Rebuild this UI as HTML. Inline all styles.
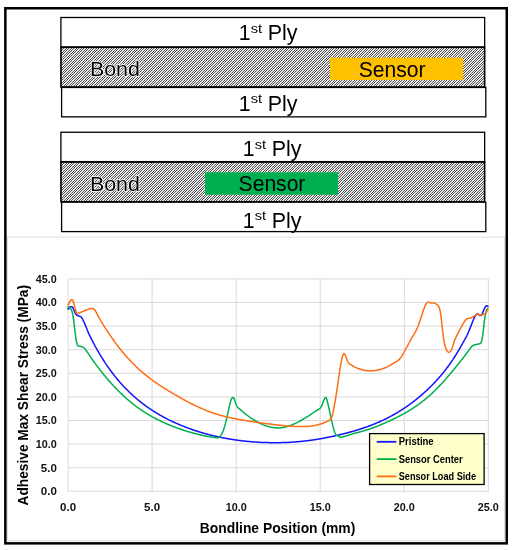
<!DOCTYPE html>
<html><head><meta charset="utf-8"><title>Adhesive Max Shear Stress</title>
<style>
html,body{margin:0;padding:0;background:#fff;}
body{width:514px;height:550px;overflow:hidden;}
svg{display:block;font-family:"Liberation Sans",sans-serif;}
.big{font-size:21.3px;fill:#000;}
.bond{font-size:20.3px;stroke:#fff;stroke-width:1.6;paint-order:stroke;stroke-linejoin:round;}
.tick text{font-size:10px;font-weight:bold;fill:#111;}
.title{font-size:14.5px;font-weight:bold;fill:#000;}
.leg text{font-size:10.4px;font-weight:bold;fill:#000;}
.grid line{stroke:#d9d9d9;stroke-width:1;}
.curve{fill:none;stroke-width:1.5;stroke-linejoin:round;stroke-linecap:round;}
</style></head><body>
<svg width="514" height="550" viewBox="0 0 514 550">
<defs>
<pattern id="hatch" width="5" height="5" patternUnits="userSpaceOnUse" shape-rendering="crispEdges"><rect width="5" height="5" fill="#fff"/><rect x="1" y="0" width="1" height="1" fill="rgb(80,80,80)"/><rect x="2" y="0" width="1" height="1" fill="rgb(232,232,232)"/><rect x="3" y="0" width="1" height="1" fill="rgb(232,232,232)"/><rect x="4" y="0" width="1" height="1" fill="rgb(80,80,80)"/><rect x="0" y="1" width="1" height="1" fill="rgb(80,80,80)"/><rect x="1" y="1" width="1" height="1" fill="rgb(232,232,232)"/><rect x="2" y="1" width="1" height="1" fill="rgb(232,232,232)"/><rect x="3" y="1" width="1" height="1" fill="rgb(80,80,80)"/><rect x="0" y="2" width="1" height="1" fill="rgb(232,232,232)"/><rect x="1" y="2" width="1" height="1" fill="rgb(232,232,232)"/><rect x="2" y="2" width="1" height="1" fill="rgb(80,80,80)"/><rect x="4" y="2" width="1" height="1" fill="rgb(80,80,80)"/><rect x="0" y="3" width="1" height="1" fill="rgb(232,232,232)"/><rect x="1" y="3" width="1" height="1" fill="rgb(80,80,80)"/><rect x="3" y="3" width="1" height="1" fill="rgb(80,80,80)"/><rect x="4" y="3" width="1" height="1" fill="rgb(232,232,232)"/><rect x="0" y="4" width="1" height="1" fill="rgb(80,80,80)"/><rect x="2" y="4" width="1" height="1" fill="rgb(80,80,80)"/><rect x="3" y="4" width="1" height="1" fill="rgb(232,232,232)"/><rect x="4" y="4" width="1" height="1" fill="rgb(232,232,232)"/></pattern>
</defs>
<rect width="514" height="550" fill="#fff"/>
<rect x="5.35" y="8.25" width="501.4" height="535.1" fill="#fff" stroke="#000" stroke-width="2.5"/>
<rect x="7.5" y="237.1" width="497" height="303.6" fill="none" stroke="#dedede" stroke-width="1"/>
<rect x="61" y="47.30" width="423.6" height="39.70" fill="url(#hatch)"/><rect x="60.95" y="47.30" width="423.7" height="39.70" fill="none" stroke="#000" stroke-width="1.6"/><rect x="60.9" y="17.50" width="423.75" height="29.35" fill="#fff" stroke="#000" stroke-width="1.3"/><rect x="61.6" y="87.45" width="424.2" height="29.40" fill="#fff" stroke="#000" stroke-width="1.3"/><rect x="330.0" y="57.7" width="133.1" height="22.3" fill="#FFC000"/><text class="big" x="238.7" y="39.9">1<tspan x="250.8" y="32.5" style="font-size:13.4px" textLength="11.4" lengthAdjust="spacingAndGlyphs">st</tspan> <tspan x="267.7" y="39.9" textLength="29.8" lengthAdjust="spacingAndGlyphs">Ply</tspan></text><text class="big" x="238.7" y="110.7">1<tspan x="250.8" y="103.3" style="font-size:13.4px" textLength="11.4" lengthAdjust="spacingAndGlyphs">st</tspan> <tspan x="267.7" y="110.7" textLength="29.8" lengthAdjust="spacingAndGlyphs">Ply</tspan></text><text class="big" x="358.7" y="77.1" textLength="66.8" lengthAdjust="spacingAndGlyphs">Sensor</text><text class="big bond" x="89.9" y="75.8" textLength="50" lengthAdjust="spacingAndGlyphs">Bond</text>
<rect x="61" y="162.05" width="423.6" height="39.70" fill="url(#hatch)"/><rect x="60.95" y="162.05" width="423.7" height="39.70" fill="none" stroke="#000" stroke-width="1.6"/><rect x="60.9" y="132.25" width="423.75" height="29.35" fill="#fff" stroke="#000" stroke-width="1.3"/><rect x="61.6" y="202.20" width="424.2" height="29.40" fill="#fff" stroke="#000" stroke-width="1.3"/><rect x="205.1" y="172.3" width="133.0" height="22.4" fill="#00B050"/><text class="big" x="242.7" y="156.1">1<tspan x="254.8" y="148.7" style="font-size:13.4px" textLength="11.4" lengthAdjust="spacingAndGlyphs">st</tspan> <tspan x="271.7" y="156.1" textLength="29.8" lengthAdjust="spacingAndGlyphs">Ply</tspan></text><text class="big" x="242.7" y="227.5">1<tspan x="254.8" y="220.1" style="font-size:13.4px" textLength="11.4" lengthAdjust="spacingAndGlyphs">st</tspan> <tspan x="271.7" y="227.5" textLength="29.8" lengthAdjust="spacingAndGlyphs">Ply</tspan></text><text class="big" x="238.6" y="191.4" textLength="66.8" lengthAdjust="spacingAndGlyphs">Sensor</text><text class="big bond" x="89.9" y="190.5" textLength="50" lengthAdjust="spacingAndGlyphs">Bond</text>
<g class="grid"><line x1="68.1" y1="491.3" x2="488.3" y2="491.3"/><line x1="68.1" y1="467.7" x2="488.3" y2="467.7"/><line x1="68.1" y1="444.1" x2="488.3" y2="444.1"/><line x1="68.1" y1="420.5" x2="488.3" y2="420.5"/><line x1="68.1" y1="396.9" x2="488.3" y2="396.9"/><line x1="68.1" y1="373.3" x2="488.3" y2="373.3"/><line x1="68.1" y1="349.7" x2="488.3" y2="349.7"/><line x1="68.1" y1="326.1" x2="488.3" y2="326.1"/><line x1="68.1" y1="302.5" x2="488.3" y2="302.5"/><line x1="68.1" y1="278.9" x2="488.3" y2="278.9"/><line x1="68.1" y1="278.9" x2="68.1" y2="491.3"/><line x1="152.1" y1="278.9" x2="152.1" y2="491.3"/><line x1="236.2" y1="278.9" x2="236.2" y2="491.3"/><line x1="320.2" y1="278.9" x2="320.2" y2="491.3"/><line x1="404.3" y1="278.9" x2="404.3" y2="491.3"/><line x1="488.3" y1="278.9" x2="488.3" y2="491.3"/></g>
<path class="curve" stroke="#1414FF" d="M68.0,309.1 L68.5,308.7 L69.0,308.1 L69.5,307.6 L70.0,307.2 L70.5,306.9 L71.0,306.7 L71.5,306.7 L72.0,306.8 L72.5,307.2 L73.0,308.0 L73.5,309.0 L74.0,310.2 L74.5,311.5 L75.0,312.6 L75.5,313.6 L76.0,314.3 L76.5,314.9 L77.0,315.3 L77.5,315.5 L78.0,315.7 L78.5,315.9 L79.0,316.1 L79.5,316.2 L80.0,316.4 L80.5,316.6 L81.0,316.9 L81.5,317.4 L82.0,318.1 L82.5,319.0 L83.0,320.0 L83.5,321.1 L84.0,322.2 L84.5,323.3 L85.0,324.4 L85.5,325.6 L86.0,326.8 L86.5,328.0 L87.0,329.2 L87.5,330.6 L88.0,331.9 L88.5,333.0 L89.0,334.1 L89.5,335.1 L90.0,336.1 L90.5,337.2 L91.0,338.2 L91.5,339.2 L92.0,340.2 L92.5,341.2 L93.0,342.2 L93.5,343.1 L94.0,344.0 L94.5,344.9 L95.0,345.9 L95.5,346.8 L96.0,347.6 L96.5,348.5 L97.0,349.4 L97.5,350.3 L98.0,351.2 L98.5,352.0 L99.0,352.9 L99.5,353.8 L100.0,354.6 L100.5,355.4 L101.0,356.3 L101.5,357.1 L102.0,357.9 L102.5,358.7 L103.0,359.5 L103.5,360.3 L104.0,361.0 L104.5,361.8 L105.0,362.6 L105.5,363.3 L106.0,364.1 L106.5,364.8 L107.0,365.6 L107.5,366.3 L108.0,367.0 L108.5,367.7 L109.0,368.4 L109.5,369.1 L110.0,369.8 L110.5,370.5 L111.0,371.2 L111.5,371.8 L112.0,372.5 L112.5,373.2 L113.0,373.8 L113.5,374.5 L114.0,375.1 L114.5,375.7 L115.0,376.4 L115.5,377.0 L116.0,377.6 L116.5,378.2 L117.0,378.8 L117.5,379.4 L118.0,380.0 L118.5,380.6 L119.0,381.2 L119.5,381.8 L120.0,382.3 L120.5,382.9 L121.0,383.5 L121.5,384.0 L122.0,384.6 L122.5,385.1 L123.0,385.7 L123.5,386.2 L124.0,386.7 L124.5,387.2 L125.0,387.8 L125.5,388.3 L126.0,388.8 L126.5,389.3 L127.0,389.8 L127.5,390.3 L128.0,390.8 L128.5,391.3 L129.0,391.8 L129.5,392.2 L130.0,392.7 L130.5,393.2 L131.0,393.7 L131.5,394.1 L132.0,394.6 L132.5,395.1 L133.0,395.5 L133.5,396.0 L134.0,396.4 L134.5,396.8 L135.0,397.3 L135.5,397.7 L136.0,398.2 L136.5,398.6 L137.0,399.0 L137.5,399.4 L138.0,399.8 L138.5,400.3 L139.0,400.7 L139.5,401.1 L140.0,401.5 L140.5,401.9 L141.0,402.3 L141.5,402.7 L142.0,403.1 L142.5,403.4 L143.0,403.8 L143.5,404.2 L144.0,404.6 L144.5,405.0 L145.0,405.3 L145.5,405.7 L146.0,406.1 L146.5,406.4 L147.0,406.8 L147.5,407.1 L148.0,407.5 L148.5,407.8 L149.0,408.2 L149.5,408.5 L150.0,408.9 L150.5,409.2 L151.0,409.5 L151.5,409.9 L152.0,410.2 L152.5,410.5 L153.0,410.8 L153.5,411.2 L154.0,411.5 L154.5,411.8 L155.0,412.1 L155.5,412.4 L156.0,412.7 L156.5,413.0 L157.0,413.3 L157.5,413.6 L158.0,413.9 L158.5,414.2 L159.0,414.5 L159.5,414.8 L160.0,415.1 L160.5,415.4 L161.0,415.6 L161.5,415.9 L162.0,416.2 L162.5,416.5 L163.0,416.8 L163.5,417.0 L164.0,417.3 L164.5,417.6 L165.0,417.8 L165.5,418.1 L166.0,418.3 L166.5,418.6 L167.0,418.9 L167.5,419.1 L168.0,419.4 L168.5,419.6 L169.0,419.9 L169.5,420.1 L170.0,420.4 L170.5,420.6 L171.0,420.8 L171.5,421.1 L172.0,421.3 L172.5,421.6 L173.0,421.8 L173.5,422.0 L174.0,422.3 L174.5,422.5 L175.0,422.7 L175.5,422.9 L176.0,423.2 L176.5,423.4 L177.0,423.6 L177.5,423.8 L178.0,424.0 L178.5,424.3 L179.0,424.5 L179.5,424.7 L180.0,424.9 L180.5,425.1 L181.0,425.3 L181.5,425.5 L182.0,425.7 L182.5,425.9 L183.0,426.1 L183.5,426.3 L184.0,426.5 L184.5,426.7 L185.0,426.9 L185.5,427.1 L186.0,427.3 L186.5,427.5 L187.0,427.7 L187.5,427.9 L188.0,428.1 L188.5,428.2 L189.0,428.4 L189.5,428.6 L190.0,428.8 L190.5,429.0 L191.0,429.1 L191.5,429.3 L192.0,429.5 L192.5,429.7 L193.0,429.8 L193.5,430.0 L194.0,430.2 L194.5,430.4 L195.0,430.5 L195.5,430.7 L196.0,430.8 L196.5,431.0 L197.0,431.2 L197.5,431.3 L198.0,431.5 L198.5,431.6 L199.0,431.8 L199.5,432.0 L200.0,432.1 L200.5,432.3 L201.0,432.4 L201.5,432.6 L202.0,432.7 L202.5,432.9 L203.0,433.0 L203.5,433.1 L204.0,433.3 L204.5,433.4 L205.0,433.6 L205.5,433.7 L206.0,433.8 L206.5,434.0 L207.0,434.1 L207.5,434.2 L208.0,434.4 L208.5,434.5 L209.0,434.6 L209.5,434.8 L210.0,434.9 L210.5,435.0 L211.0,435.1 L211.5,435.3 L212.0,435.4 L212.5,435.5 L213.0,435.6 L213.5,435.8 L214.0,435.9 L214.5,436.0 L215.0,436.1 L215.5,436.2 L216.0,436.3 L216.5,436.5 L217.0,436.6 L217.5,436.7 L218.0,436.8 L218.5,436.9 L219.0,437.0 L219.5,437.1 L220.0,437.2 L220.5,437.3 L221.0,437.4 L221.5,437.5 L222.0,437.6 L222.5,437.7 L223.0,437.8 L223.5,437.9 L224.0,438.0 L224.5,438.1 L225.0,438.2 L225.5,438.3 L226.0,438.4 L226.5,438.5 L227.0,438.6 L227.5,438.7 L228.0,438.7 L228.5,438.8 L229.0,438.9 L229.5,439.0 L230.0,439.1 L230.5,439.2 L231.0,439.2 L231.5,439.3 L232.0,439.4 L232.5,439.5 L233.0,439.6 L233.5,439.6 L234.0,439.7 L234.5,439.8 L235.0,439.9 L235.5,439.9 L236.0,440.0 L236.5,440.1 L237.0,440.1 L237.5,440.2 L238.0,440.3 L238.5,440.4 L239.0,440.4 L239.5,440.5 L240.0,440.5 L240.5,440.6 L241.0,440.7 L241.5,440.7 L242.0,440.8 L242.5,440.9 L243.0,440.9 L243.5,441.0 L244.0,441.0 L244.5,441.1 L245.0,441.1 L245.5,441.2 L246.0,441.2 L246.5,441.3 L247.0,441.3 L247.5,441.4 L248.0,441.4 L248.5,441.5 L249.0,441.5 L249.5,441.6 L250.0,441.6 L250.5,441.7 L251.0,441.7 L251.5,441.7 L252.0,441.8 L252.5,441.8 L253.0,441.9 L253.5,441.9 L254.0,441.9 L254.5,442.0 L255.0,442.0 L255.5,442.1 L256.0,442.1 L256.5,442.1 L257.0,442.2 L257.5,442.2 L258.0,442.2 L258.5,442.2 L259.0,442.3 L259.5,442.3 L260.0,442.3 L260.5,442.4 L261.0,442.4 L261.5,442.4 L262.0,442.4 L262.5,442.4 L263.0,442.5 L263.5,442.5 L264.0,442.5 L264.5,442.5 L265.0,442.5 L265.5,442.6 L266.0,442.6 L266.5,442.6 L267.0,442.6 L267.5,442.6 L268.0,442.6 L268.5,442.6 L269.0,442.7 L269.5,442.7 L270.0,442.7 L270.5,442.7 L271.0,442.7 L271.5,442.7 L272.0,442.7 L272.5,442.7 L273.0,442.7 L273.5,442.7 L274.0,442.7 L274.5,442.7 L275.0,442.7 L275.5,442.7 L276.0,442.7 L276.5,442.7 L277.0,442.7 L277.5,442.7 L278.0,442.7 L278.5,442.7 L279.0,442.7 L279.5,442.7 L280.0,442.7 L280.5,442.7 L281.0,442.7 L281.5,442.6 L282.0,442.6 L282.5,442.6 L283.0,442.6 L283.5,442.6 L284.0,442.6 L284.5,442.5 L285.0,442.5 L285.5,442.5 L286.0,442.5 L286.5,442.5 L287.0,442.4 L287.5,442.4 L288.0,442.4 L288.5,442.4 L289.0,442.3 L289.5,442.3 L290.0,442.3 L290.5,442.3 L291.0,442.2 L291.5,442.2 L292.0,442.2 L292.5,442.1 L293.0,442.1 L293.5,442.1 L294.0,442.0 L294.5,442.0 L295.0,442.0 L295.5,441.9 L296.0,441.9 L296.5,441.8 L297.0,441.8 L297.5,441.8 L298.0,441.7 L298.5,441.7 L299.0,441.6 L299.5,441.6 L300.0,441.5 L300.5,441.5 L301.0,441.4 L301.5,441.4 L302.0,441.3 L302.5,441.3 L303.0,441.2 L303.5,441.2 L304.0,441.1 L304.5,441.1 L305.0,441.0 L305.5,440.9 L306.0,440.9 L306.5,440.8 L307.0,440.8 L307.5,440.7 L308.0,440.6 L308.5,440.6 L309.0,440.5 L309.5,440.4 L310.0,440.4 L310.5,440.3 L311.0,440.2 L311.5,440.2 L312.0,440.1 L312.5,440.0 L313.0,440.0 L313.5,439.9 L314.0,439.8 L314.5,439.7 L315.0,439.7 L315.5,439.6 L316.0,439.5 L316.5,439.4 L317.0,439.3 L317.5,439.3 L318.0,439.2 L318.5,439.1 L319.0,439.0 L319.5,438.9 L320.0,438.8 L320.5,438.8 L321.0,438.7 L321.5,438.6 L322.0,438.5 L322.5,438.4 L323.0,438.3 L323.5,438.2 L324.0,438.1 L324.5,438.0 L325.0,437.9 L325.5,437.8 L326.0,437.7 L326.5,437.6 L327.0,437.5 L327.5,437.4 L328.0,437.3 L328.5,437.2 L329.0,437.1 L329.5,437.0 L330.0,436.9 L330.5,436.8 L331.0,436.7 L331.5,436.6 L332.0,436.5 L332.5,436.4 L333.0,436.3 L333.5,436.2 L334.0,436.1 L334.5,436.0 L335.0,435.9 L335.5,435.7 L336.0,435.6 L336.5,435.5 L337.0,435.4 L337.5,435.3 L338.0,435.2 L338.5,435.1 L339.0,434.9 L339.5,434.8 L340.0,434.7 L340.5,434.6 L341.0,434.5 L341.5,434.3 L342.0,434.2 L342.5,434.1 L343.0,434.0 L343.5,433.8 L344.0,433.7 L344.5,433.6 L345.0,433.4 L345.5,433.3 L346.0,433.2 L346.5,433.1 L347.0,432.9 L347.5,432.8 L348.0,432.7 L348.5,432.5 L349.0,432.4 L349.5,432.2 L350.0,432.1 L350.5,432.0 L351.0,431.8 L351.5,431.7 L352.0,431.6 L352.5,431.4 L353.0,431.3 L353.5,431.1 L354.0,431.0 L354.5,430.8 L355.0,430.7 L355.5,430.5 L356.0,430.4 L356.5,430.2 L357.0,430.1 L357.5,429.9 L358.0,429.8 L358.5,429.6 L359.0,429.5 L359.5,429.3 L360.0,429.1 L360.5,429.0 L361.0,428.8 L361.5,428.7 L362.0,428.5 L362.5,428.3 L363.0,428.2 L363.5,428.0 L364.0,427.8 L364.5,427.6 L365.0,427.5 L365.5,427.3 L366.0,427.1 L366.5,426.9 L367.0,426.8 L367.5,426.6 L368.0,426.4 L368.5,426.2 L369.0,426.0 L369.5,425.8 L370.0,425.7 L370.5,425.5 L371.0,425.3 L371.5,425.1 L372.0,424.9 L372.5,424.7 L373.0,424.5 L373.5,424.3 L374.0,424.1 L374.5,423.9 L375.0,423.7 L375.5,423.5 L376.0,423.3 L376.5,423.1 L377.0,422.8 L377.5,422.6 L378.0,422.4 L378.5,422.2 L379.0,422.0 L379.5,421.8 L380.0,421.5 L380.5,421.3 L381.0,421.1 L381.5,420.9 L382.0,420.6 L382.5,420.4 L383.0,420.2 L383.5,419.9 L384.0,419.7 L384.5,419.4 L385.0,419.2 L385.5,419.0 L386.0,418.7 L386.5,418.5 L387.0,418.2 L387.5,418.0 L388.0,417.7 L388.5,417.5 L389.0,417.2 L389.5,416.9 L390.0,416.7 L390.5,416.4 L391.0,416.1 L391.5,415.9 L392.0,415.6 L392.5,415.3 L393.0,415.0 L393.5,414.8 L394.0,414.5 L394.5,414.2 L395.0,413.9 L395.5,413.6 L396.0,413.3 L396.5,413.1 L397.0,412.8 L397.5,412.5 L398.0,412.2 L398.5,411.9 L399.0,411.6 L399.5,411.2 L400.0,410.9 L400.5,410.6 L401.0,410.3 L401.5,410.0 L402.0,409.7 L402.5,409.3 L403.0,409.0 L403.5,408.7 L404.0,408.4 L404.5,408.0 L405.0,407.7 L405.5,407.4 L406.0,407.0 L406.5,406.7 L407.0,406.3 L407.5,406.0 L408.0,405.6 L408.5,405.3 L409.0,404.9 L409.5,404.6 L410.0,404.2 L410.5,403.8 L411.0,403.5 L411.5,403.1 L412.0,402.7 L412.5,402.3 L413.0,402.0 L413.5,401.6 L414.0,401.2 L414.5,400.8 L415.0,400.4 L415.5,400.0 L416.0,399.6 L416.5,399.2 L417.0,398.8 L417.5,398.4 L418.0,398.0 L418.5,397.6 L419.0,397.2 L419.5,396.7 L420.0,396.3 L420.5,395.9 L421.0,395.5 L421.5,395.0 L422.0,394.6 L422.5,394.2 L423.0,393.7 L423.5,393.3 L424.0,392.8 L424.5,392.4 L425.0,391.9 L425.5,391.5 L426.0,391.0 L426.5,390.5 L427.0,390.1 L427.5,389.6 L428.0,389.1 L428.5,388.6 L429.0,388.2 L429.5,387.7 L430.0,387.2 L430.5,386.7 L431.0,386.2 L431.5,385.7 L432.0,385.2 L432.5,384.7 L433.0,384.2 L433.5,383.7 L434.0,383.1 L434.5,382.6 L435.0,382.1 L435.5,381.6 L436.0,381.0 L436.5,380.5 L437.0,379.9 L437.5,379.4 L438.0,378.8 L438.5,378.3 L439.0,377.7 L439.5,377.1 L440.0,376.5 L440.5,376.0 L441.0,375.4 L441.5,374.8 L442.0,374.2 L442.5,373.6 L443.0,373.0 L443.5,372.3 L444.0,371.7 L444.5,371.1 L445.0,370.5 L445.5,369.8 L446.0,369.2 L446.5,368.5 L447.0,367.8 L447.5,367.2 L448.0,366.5 L448.5,365.8 L449.0,365.1 L449.5,364.4 L450.0,363.7 L450.5,363.0 L451.0,362.3 L451.5,361.6 L452.0,360.8 L452.5,360.1 L453.0,359.3 L453.5,358.6 L454.0,357.8 L454.5,357.0 L455.0,356.3 L455.5,355.5 L456.0,354.7 L456.5,353.9 L457.0,353.0 L457.5,352.2 L458.0,351.4 L458.5,350.5 L459.0,349.7 L459.5,348.8 L460.0,348.0 L460.5,347.1 L461.0,346.2 L461.5,345.3 L462.0,344.4 L462.5,343.5 L463.0,342.6 L463.5,341.8 L464.0,340.9 L464.5,340.0 L465.0,339.1 L465.5,338.2 L466.0,337.3 L466.5,336.3 L467.0,335.3 L467.5,334.2 L468.0,333.1 L468.5,332.0 L469.0,330.8 L469.5,329.6 L470.0,328.4 L470.5,327.1 L471.0,325.9 L471.5,324.6 L472.0,323.3 L472.5,322.0 L473.0,320.7 L473.5,319.5 L474.0,318.4 L474.5,317.3 L475.0,316.3 L475.5,315.5 L476.0,314.8 L476.5,314.3 L477.0,314.0 L477.5,313.9 L478.0,314.0 L478.5,314.3 L479.0,314.8 L479.5,315.2 L480.0,315.5 L480.5,315.5 L481.0,315.4 L481.5,315.0 L482.0,314.2 L482.5,313.1 L483.0,311.9 L483.5,310.6 L484.0,309.4 L484.5,308.3 L485.0,307.3 L485.5,306.5 L486.0,306.0 L486.5,305.8 L487.0,305.8 L487.5,306.1 L488.0,306.5"/>
<path class="curve" stroke="#00B050" d="M68.0,306.8 L68.5,307.0 L69.0,307.2 L69.5,307.6 L70.0,308.0 L70.5,308.6 L71.0,309.3 L71.5,310.2 L72.0,311.5 L72.5,313.3 L73.0,315.9 L73.5,319.2 L74.0,323.1 L74.5,327.4 L75.0,331.6 L75.5,335.7 L76.0,339.1 L76.5,341.8 L77.0,343.9 L77.5,345.1 L78.0,345.8 L78.5,346.1 L79.0,346.3 L79.5,346.3 L80.0,346.3 L80.5,346.4 L81.0,346.4 L81.5,346.5 L82.0,346.7 L82.5,346.9 L83.0,347.2 L83.5,347.5 L84.0,348.0 L84.5,348.4 L85.0,349.0 L85.5,349.6 L86.0,350.3 L86.5,351.0 L87.0,351.7 L87.5,352.4 L88.0,353.1 L88.5,353.9 L89.0,354.7 L89.5,355.4 L90.0,356.2 L90.5,356.9 L91.0,357.6 L91.5,358.4 L92.0,359.1 L92.5,359.8 L93.0,360.5 L93.5,361.2 L94.0,361.9 L94.5,362.6 L95.0,363.2 L95.5,363.9 L96.0,364.6 L96.5,365.3 L97.0,365.9 L97.5,366.6 L98.0,367.3 L98.5,367.9 L99.0,368.6 L99.5,369.2 L100.0,369.9 L100.5,370.5 L101.0,371.1 L101.5,371.8 L102.0,372.4 L102.5,373.0 L103.0,373.6 L103.5,374.3 L104.0,374.9 L104.5,375.5 L105.0,376.1 L105.5,376.7 L106.0,377.3 L106.5,377.9 L107.0,378.5 L107.5,379.0 L108.0,379.6 L108.5,380.2 L109.0,380.8 L109.5,381.4 L110.0,381.9 L110.5,382.5 L111.0,383.0 L111.5,383.6 L112.0,384.2 L112.5,384.7 L113.0,385.2 L113.5,385.8 L114.0,386.3 L114.5,386.9 L115.0,387.4 L115.5,387.9 L116.0,388.4 L116.5,388.9 L117.0,389.5 L117.5,390.0 L118.0,390.5 L118.5,391.0 L119.0,391.5 L119.5,392.0 L120.0,392.5 L120.5,393.0 L121.0,393.4 L121.5,393.9 L122.0,394.4 L122.5,394.9 L123.0,395.3 L123.5,395.8 L124.0,396.3 L124.5,396.7 L125.0,397.2 L125.5,397.6 L126.0,398.1 L126.5,398.5 L127.0,399.0 L127.5,399.4 L128.0,399.8 L128.5,400.3 L129.0,400.7 L129.5,401.1 L130.0,401.5 L130.5,401.9 L131.0,402.4 L131.5,402.8 L132.0,403.2 L132.5,403.6 L133.0,404.0 L133.5,404.3 L134.0,404.7 L134.5,405.1 L135.0,405.5 L135.5,405.9 L136.0,406.3 L136.5,406.6 L137.0,407.0 L137.5,407.4 L138.0,407.7 L138.5,408.1 L139.0,408.4 L139.5,408.8 L140.0,409.1 L140.5,409.5 L141.0,409.8 L141.5,410.2 L142.0,410.5 L142.5,410.8 L143.0,411.2 L143.5,411.5 L144.0,411.8 L144.5,412.1 L145.0,412.5 L145.5,412.8 L146.0,413.1 L146.5,413.4 L147.0,413.7 L147.5,414.0 L148.0,414.3 L148.5,414.6 L149.0,414.9 L149.5,415.2 L150.0,415.5 L150.5,415.8 L151.0,416.1 L151.5,416.4 L152.0,416.6 L152.5,416.9 L153.0,417.2 L153.5,417.5 L154.0,417.7 L154.5,418.0 L155.0,418.3 L155.5,418.5 L156.0,418.8 L156.5,419.0 L157.0,419.3 L157.5,419.6 L158.0,419.8 L158.5,420.1 L159.0,420.3 L159.5,420.6 L160.0,420.8 L160.5,421.0 L161.0,421.3 L161.5,421.5 L162.0,421.7 L162.5,422.0 L163.0,422.2 L163.5,422.4 L164.0,422.7 L164.5,422.9 L165.0,423.1 L165.5,423.3 L166.0,423.5 L166.5,423.8 L167.0,424.0 L167.5,424.2 L168.0,424.4 L168.5,424.6 L169.0,424.8 L169.5,425.0 L170.0,425.2 L170.5,425.4 L171.0,425.6 L171.5,425.8 L172.0,426.0 L172.5,426.2 L173.0,426.4 L173.5,426.6 L174.0,426.8 L174.5,427.0 L175.0,427.2 L175.5,427.4 L176.0,427.6 L176.5,427.7 L177.0,427.9 L177.5,428.1 L178.0,428.3 L178.5,428.5 L179.0,428.6 L179.5,428.8 L180.0,429.0 L180.5,429.2 L181.0,429.3 L181.5,429.5 L182.0,429.7 L182.5,429.8 L183.0,430.0 L183.5,430.2 L184.0,430.3 L184.5,430.5 L185.0,430.7 L185.5,430.8 L186.0,431.0 L186.5,431.1 L187.0,431.3 L187.5,431.4 L188.0,431.6 L188.5,431.7 L189.0,431.9 L189.5,432.0 L190.0,432.2 L190.5,432.3 L191.0,432.5 L191.5,432.6 L192.0,432.7 L192.5,432.9 L193.0,433.0 L193.5,433.2 L194.0,433.3 L194.5,433.4 L195.0,433.5 L195.5,433.7 L196.0,433.8 L196.5,433.9 L197.0,434.1 L197.5,434.2 L198.0,434.3 L198.5,434.4 L199.0,434.5 L199.5,434.7 L200.0,434.8 L200.5,434.9 L201.0,435.0 L201.5,435.1 L202.0,435.2 L202.5,435.3 L203.0,435.4 L203.5,435.6 L204.0,435.7 L204.5,435.8 L205.0,435.9 L205.5,436.0 L206.0,436.1 L206.5,436.2 L207.0,436.3 L207.5,436.4 L208.0,436.5 L208.5,436.6 L209.0,436.6 L209.5,436.7 L210.0,436.8 L210.5,436.9 L211.0,437.0 L211.5,437.1 L212.0,437.1 L212.5,437.2 L213.0,437.3 L213.5,437.3 L214.0,437.4 L214.5,437.5 L215.0,437.5 L215.5,437.6 L216.0,437.7 L216.5,437.7 L217.0,437.8 L217.5,437.8 L218.0,437.8 L218.5,437.7 L219.0,437.4 L219.5,436.9 L220.0,436.4 L220.5,435.8 L221.0,435.1 L221.5,434.3 L222.0,433.4 L222.5,432.4 L223.0,431.2 L223.5,429.9 L224.0,428.4 L224.5,426.8 L225.0,425.0 L225.5,423.2 L226.0,421.2 L226.5,419.2 L227.0,417.1 L227.5,414.9 L228.0,412.7 L228.5,410.3 L229.0,408.0 L229.5,405.7 L230.0,403.7 L230.5,401.8 L231.0,400.3 L231.5,399.0 L232.0,398.1 L232.5,397.5 L233.0,397.4 L233.5,397.6 L234.0,398.3 L234.5,399.5 L235.0,401.1 L235.5,402.7 L236.0,404.2 L236.5,405.5 L237.0,406.4 L237.5,407.1 L238.0,407.7 L238.5,408.1 L239.0,408.5 L239.5,408.9 L240.0,409.3 L240.5,409.7 L241.0,410.1 L241.5,410.6 L242.0,411.0 L242.5,411.4 L243.0,411.9 L243.5,412.3 L244.0,412.7 L244.5,413.2 L245.0,413.6 L245.5,414.0 L246.0,414.4 L246.5,414.8 L247.0,415.1 L247.5,415.5 L248.0,415.9 L248.5,416.2 L249.0,416.6 L249.5,416.9 L250.0,417.3 L250.5,417.6 L251.0,418.0 L251.5,418.3 L252.0,418.6 L252.5,419.0 L253.0,419.3 L253.5,419.6 L254.0,419.9 L254.5,420.2 L255.0,420.5 L255.5,420.8 L256.0,421.1 L256.5,421.4 L257.0,421.7 L257.5,422.0 L258.0,422.2 L258.5,422.5 L259.0,422.8 L259.5,423.0 L260.0,423.3 L260.5,423.5 L261.0,423.8 L261.5,424.0 L262.0,424.2 L262.5,424.4 L263.0,424.7 L263.5,424.9 L264.0,425.1 L264.5,425.3 L265.0,425.4 L265.5,425.6 L266.0,425.8 L266.5,426.0 L267.0,426.1 L267.5,426.3 L268.0,426.4 L268.5,426.6 L269.0,426.7 L269.5,426.8 L270.0,427.0 L270.5,427.1 L271.0,427.2 L271.5,427.3 L272.0,427.4 L272.5,427.5 L273.0,427.5 L273.5,427.6 L274.0,427.7 L274.5,427.7 L275.0,427.8 L275.5,427.8 L276.0,427.9 L276.5,427.9 L277.0,427.9 L277.5,427.9 L278.0,427.9 L278.5,427.9 L279.0,427.9 L279.5,427.9 L280.0,427.8 L280.5,427.8 L281.0,427.8 L281.5,427.7 L282.0,427.6 L282.5,427.6 L283.0,427.5 L283.5,427.4 L284.0,427.3 L284.5,427.2 L285.0,427.1 L285.5,427.0 L286.0,426.9 L286.5,426.7 L287.0,426.6 L287.5,426.4 L288.0,426.3 L288.5,426.1 L289.0,426.0 L289.5,425.8 L290.0,425.6 L290.5,425.5 L291.0,425.3 L291.5,425.1 L292.0,424.9 L292.5,424.7 L293.0,424.5 L293.5,424.3 L294.0,424.0 L294.5,423.8 L295.0,423.6 L295.5,423.4 L296.0,423.1 L296.5,422.9 L297.0,422.6 L297.5,422.4 L298.0,422.1 L298.5,421.9 L299.0,421.6 L299.5,421.3 L300.0,421.0 L300.5,420.8 L301.0,420.5 L301.5,420.2 L302.0,419.9 L302.5,419.6 L303.0,419.3 L303.5,419.0 L304.0,418.7 L304.5,418.4 L305.0,418.1 L305.5,417.8 L306.0,417.5 L306.5,417.2 L307.0,416.9 L307.5,416.6 L308.0,416.3 L308.5,415.9 L309.0,415.6 L309.5,415.3 L310.0,415.0 L310.5,414.6 L311.0,414.3 L311.5,413.9 L312.0,413.6 L312.5,413.2 L313.0,412.9 L313.5,412.6 L314.0,412.2 L314.5,411.9 L315.0,411.5 L315.5,411.2 L316.0,410.9 L316.5,410.6 L317.0,410.3 L317.5,410.0 L318.0,409.7 L318.5,409.4 L319.0,409.1 L319.5,408.7 L320.0,408.3 L320.5,407.7 L321.0,407.0 L321.5,406.2 L322.0,405.1 L322.5,403.8 L323.0,402.4 L323.5,401.1 L324.0,399.8 L324.5,398.7 L325.0,397.9 L325.5,397.5 L326.0,397.7 L326.5,398.6 L327.0,400.1 L327.5,402.0 L328.0,404.1 L328.5,406.3 L329.0,408.6 L329.5,410.9 L330.0,413.2 L330.5,415.5 L331.0,417.8 L331.5,420.1 L332.0,422.3 L332.5,424.4 L333.0,426.4 L333.5,428.3 L334.0,430.0 L334.5,431.6 L335.0,433.0 L335.5,434.1 L336.0,434.8 L336.5,435.2 L337.0,435.4 L337.5,435.6 L338.0,435.9 L338.5,436.2 L339.0,436.6 L339.5,437.0 L340.0,437.2 L340.5,437.3 L341.0,437.3 L341.5,437.2 L342.0,437.1 L342.5,437.0 L343.0,436.8 L343.5,436.7 L344.0,436.5 L344.5,436.4 L345.0,436.2 L345.5,436.1 L346.0,435.9 L346.5,435.8 L347.0,435.6 L347.5,435.5 L348.0,435.3 L348.5,435.2 L349.0,435.0 L349.5,434.9 L350.0,434.7 L350.5,434.6 L351.0,434.4 L351.5,434.3 L352.0,434.1 L352.5,434.0 L353.0,433.7 L353.5,433.6 L354.0,433.4 L354.5,433.3 L355.0,433.2 L355.5,433.0 L356.0,432.9 L356.5,432.8 L357.0,432.7 L357.5,432.5 L358.0,432.4 L358.5,432.3 L359.0,432.2 L359.5,432.0 L360.0,431.9 L360.5,431.8 L361.0,431.6 L361.5,431.5 L362.0,431.4 L362.5,431.2 L363.0,431.1 L363.5,430.9 L364.0,430.8 L364.5,430.6 L365.0,430.5 L365.5,430.3 L366.0,430.2 L366.5,430.0 L367.0,429.9 L367.5,429.7 L368.0,429.5 L368.5,429.4 L369.0,429.2 L369.5,429.0 L370.0,428.9 L370.5,428.7 L371.0,428.5 L371.5,428.3 L372.0,428.2 L372.5,428.0 L373.0,427.8 L373.5,427.6 L374.0,427.4 L374.5,427.2 L375.0,427.1 L375.5,426.9 L376.0,426.7 L376.5,426.5 L377.0,426.3 L377.5,426.1 L378.0,425.9 L378.5,425.7 L379.0,425.5 L379.5,425.3 L380.0,425.1 L380.5,424.9 L381.0,424.7 L381.5,424.5 L382.0,424.3 L382.5,424.0 L383.0,423.8 L383.5,423.6 L384.0,423.4 L384.5,423.2 L385.0,423.0 L385.5,422.7 L386.0,422.5 L386.5,422.3 L387.0,422.1 L387.5,421.9 L388.0,421.6 L388.5,421.4 L389.0,421.2 L389.5,420.9 L390.0,420.7 L390.5,420.5 L391.0,420.2 L391.5,420.0 L392.0,419.8 L392.5,419.5 L393.0,419.3 L393.5,419.0 L394.0,418.8 L394.5,418.5 L395.0,418.3 L395.5,418.1 L396.0,417.8 L396.5,417.6 L397.0,417.3 L397.5,417.1 L398.0,416.8 L398.5,416.5 L399.0,416.3 L399.5,416.0 L400.0,415.8 L400.5,415.5 L401.0,415.2 L401.5,415.0 L402.0,414.7 L402.5,414.4 L403.0,414.1 L403.5,413.9 L404.0,413.6 L404.5,413.3 L405.0,413.0 L405.5,412.7 L406.0,412.5 L406.5,412.2 L407.0,411.9 L407.5,411.6 L408.0,411.3 L408.5,411.0 L409.0,410.7 L409.5,410.4 L410.0,410.1 L410.5,409.8 L411.0,409.5 L411.5,409.1 L412.0,408.8 L412.5,408.5 L413.0,408.2 L413.5,407.8 L414.0,407.5 L414.5,407.2 L415.0,406.9 L415.5,406.5 L416.0,406.2 L416.5,405.8 L417.0,405.5 L417.5,405.1 L418.0,404.8 L418.5,404.4 L419.0,404.1 L419.5,403.7 L420.0,403.3 L420.5,403.0 L421.0,402.6 L421.5,402.2 L422.0,401.8 L422.5,401.4 L423.0,401.0 L423.5,400.6 L424.0,400.3 L424.5,399.9 L425.0,399.4 L425.5,399.0 L426.0,398.6 L426.5,398.2 L427.0,397.8 L427.5,397.4 L428.0,396.9 L428.5,396.5 L429.0,396.1 L429.5,395.6 L430.0,395.2 L430.5,394.7 L431.0,394.3 L431.5,393.8 L432.0,393.4 L432.5,392.9 L433.0,392.4 L433.5,391.9 L434.0,391.5 L434.5,391.0 L435.0,390.5 L435.5,390.0 L436.0,389.5 L436.5,389.0 L437.0,388.5 L437.5,388.0 L438.0,387.5 L438.5,386.9 L439.0,386.4 L439.5,385.9 L440.0,385.4 L440.5,384.8 L441.0,384.3 L441.5,383.8 L442.0,383.2 L442.5,382.7 L443.0,382.1 L443.5,381.6 L444.0,381.0 L444.5,380.4 L445.0,379.9 L445.5,379.3 L446.0,378.7 L446.5,378.2 L447.0,377.6 L447.5,377.0 L448.0,376.4 L448.5,375.8 L449.0,375.3 L449.5,374.7 L450.0,374.1 L450.5,373.5 L451.0,372.9 L451.5,372.3 L452.0,371.7 L452.5,371.1 L453.0,370.5 L453.5,369.9 L454.0,369.3 L454.5,368.7 L455.0,368.0 L455.5,367.4 L456.0,366.8 L456.5,366.2 L457.0,365.6 L457.5,365.0 L458.0,364.3 L458.5,363.7 L459.0,363.1 L459.5,362.5 L460.0,361.8 L460.5,361.2 L461.0,360.6 L461.5,359.9 L462.0,359.3 L462.5,358.7 L463.0,358.0 L463.5,357.4 L464.0,356.8 L464.5,356.1 L465.0,355.5 L465.5,354.8 L466.0,354.1 L466.5,353.5 L467.0,352.8 L467.5,352.1 L468.0,351.4 L468.5,350.7 L469.0,350.1 L469.5,349.4 L470.0,348.7 L470.5,348.0 L471.0,347.4 L471.5,346.8 L472.0,346.3 L472.5,345.9 L473.0,345.5 L473.5,345.2 L474.0,345.1 L474.5,345.0 L475.0,344.8 L475.5,344.7 L476.0,344.6 L476.5,344.5 L477.0,344.4 L477.5,344.2 L478.0,344.1 L478.5,344.0 L479.0,343.9 L479.5,343.8 L480.0,343.7 L480.5,343.3 L481.0,342.7 L481.5,341.6 L482.0,339.7 L482.5,336.9 L483.0,333.1 L483.5,328.7 L484.0,324.3 L484.5,320.2 L485.0,316.8 L485.5,313.9 L486.0,311.7 L486.5,310.1 L487.0,309.0 L487.5,308.5"/>
<path class="curve" stroke="#FF6D14" d="M68.0,305.0 L68.5,304.2 L69.0,303.2 L69.5,302.2 L70.0,301.4 L70.5,300.6 L71.0,300.1 L71.5,299.7 L72.0,299.6 L72.5,299.9 L73.0,300.8 L73.5,302.2 L74.0,304.1 L74.5,306.0 L75.0,308.0 L75.5,309.8 L76.0,311.4 L76.5,312.6 L77.0,313.3 L77.5,313.6 L78.0,313.5 L78.5,313.3 L79.0,313.1 L79.5,312.8 L80.0,312.6 L80.5,312.4 L81.0,312.2 L81.5,312.0 L82.0,311.8 L82.5,311.6 L83.0,311.4 L83.5,311.2 L84.0,311.0 L84.5,310.8 L85.0,310.6 L85.5,310.4 L86.0,310.2 L86.5,310.0 L87.0,309.8 L87.5,309.6 L88.0,309.4 L88.5,309.2 L89.0,309.0 L89.5,308.9 L90.0,308.7 L90.5,308.6 L91.0,308.5 L91.5,308.5 L92.0,308.5 L92.5,308.6 L93.0,308.8 L93.5,309.0 L94.0,309.2 L94.5,309.7 L95.0,310.3 L95.5,311.0 L96.0,311.9 L96.5,312.8 L97.0,313.8 L97.5,314.8 L98.0,315.7 L98.5,316.7 L99.0,317.6 L99.5,318.5 L100.0,319.4 L100.5,320.2 L101.0,321.1 L101.5,321.9 L102.0,322.7 L102.5,323.6 L103.0,324.4 L103.5,325.2 L104.0,326.0 L104.5,326.8 L105.0,327.6 L105.5,328.4 L106.0,329.1 L106.5,329.9 L107.0,330.7 L107.5,331.4 L108.0,332.2 L108.5,333.0 L109.0,333.7 L109.5,334.4 L110.0,335.2 L110.5,335.9 L111.0,336.6 L111.5,337.4 L112.0,338.1 L112.5,338.8 L113.0,339.5 L113.5,340.2 L114.0,340.9 L114.5,341.6 L115.0,342.3 L115.5,342.9 L116.0,343.6 L116.5,344.3 L117.0,344.9 L117.5,345.6 L118.0,346.2 L118.5,346.9 L119.0,347.5 L119.5,348.2 L120.0,348.8 L120.5,349.4 L121.0,350.0 L121.5,350.7 L122.0,351.3 L122.5,351.9 L123.0,352.5 L123.5,353.1 L124.0,353.7 L124.5,354.3 L125.0,354.8 L125.5,355.4 L126.0,356.0 L126.5,356.6 L127.0,357.1 L127.5,357.7 L128.0,358.2 L128.5,358.8 L129.0,359.3 L129.5,359.9 L130.0,360.4 L130.5,360.9 L131.0,361.5 L131.5,362.0 L132.0,362.5 L132.5,363.0 L133.0,363.5 L133.5,364.0 L134.0,364.5 L134.5,365.0 L135.0,365.5 L135.5,366.0 L136.0,366.5 L136.5,366.9 L137.0,367.4 L137.5,367.9 L138.0,368.4 L138.5,368.8 L139.0,369.3 L139.5,369.7 L140.0,370.2 L140.5,370.6 L141.0,371.1 L141.5,371.5 L142.0,371.9 L142.5,372.4 L143.0,372.8 L143.5,373.2 L144.0,373.6 L144.5,374.0 L145.0,374.4 L145.5,374.9 L146.0,375.3 L146.5,375.7 L147.0,376.1 L147.5,376.5 L148.0,376.8 L148.5,377.2 L149.0,377.6 L149.5,378.0 L150.0,378.4 L150.5,378.8 L151.0,379.1 L151.5,379.5 L152.0,379.9 L152.5,380.2 L153.0,380.6 L153.5,381.0 L154.0,381.3 L154.5,381.7 L155.0,382.0 L155.5,382.4 L156.0,382.7 L156.5,383.1 L157.0,383.4 L157.5,383.8 L158.0,384.1 L158.5,384.4 L159.0,384.8 L159.5,385.1 L160.0,385.4 L160.5,385.8 L161.0,386.1 L161.5,386.4 L162.0,386.7 L162.5,387.1 L163.0,387.4 L163.5,387.7 L164.0,388.0 L164.5,388.3 L165.0,388.6 L165.5,389.0 L166.0,389.3 L166.5,389.6 L167.0,389.9 L167.5,390.2 L168.0,390.5 L168.5,390.8 L169.0,391.1 L169.5,391.4 L170.0,391.7 L170.5,392.0 L171.0,392.3 L171.5,392.6 L172.0,392.9 L172.5,393.2 L173.0,393.5 L173.5,393.8 L174.0,394.1 L174.5,394.4 L175.0,394.7 L175.5,394.9 L176.0,395.2 L176.5,395.5 L177.0,395.8 L177.5,396.1 L178.0,396.4 L178.5,396.7 L179.0,397.0 L179.5,397.2 L180.0,397.5 L180.5,397.8 L181.0,398.1 L181.5,398.4 L182.0,398.7 L182.5,398.9 L183.0,399.2 L183.5,399.5 L184.0,399.8 L184.5,400.0 L185.0,400.3 L185.5,400.6 L186.0,400.8 L186.5,401.1 L187.0,401.4 L187.5,401.6 L188.0,401.9 L188.5,402.2 L189.0,402.4 L189.5,402.7 L190.0,402.9 L190.5,403.2 L191.0,403.5 L191.5,403.7 L192.0,404.0 L192.5,404.2 L193.0,404.5 L193.5,404.7 L194.0,405.0 L194.5,405.2 L195.0,405.4 L195.5,405.7 L196.0,405.9 L196.5,406.2 L197.0,406.4 L197.5,406.6 L198.0,406.9 L198.5,407.1 L199.0,407.3 L199.5,407.6 L200.0,407.8 L200.5,408.0 L201.0,408.2 L201.5,408.5 L202.0,408.7 L202.5,408.9 L203.0,409.1 L203.5,409.3 L204.0,409.5 L204.5,409.7 L205.0,409.9 L205.5,410.2 L206.0,410.4 L206.5,410.6 L207.0,410.8 L207.5,411.0 L208.0,411.1 L208.5,411.3 L209.0,411.5 L209.5,411.7 L210.0,411.9 L210.5,412.1 L211.0,412.3 L211.5,412.5 L212.0,412.6 L212.5,412.8 L213.0,413.0 L213.5,413.1 L214.0,413.3 L214.5,413.5 L215.0,413.6 L215.5,413.8 L216.0,414.0 L216.5,414.1 L217.0,414.3 L217.5,414.4 L218.0,414.6 L218.5,414.7 L219.0,414.9 L219.5,415.0 L220.0,415.2 L220.5,415.3 L221.0,415.4 L221.5,415.6 L222.0,415.7 L222.5,415.9 L223.0,416.0 L223.5,416.1 L224.0,416.2 L224.5,416.4 L225.0,416.5 L225.5,416.6 L226.0,416.7 L226.5,416.9 L227.0,417.0 L227.5,417.1 L228.0,417.2 L228.5,417.3 L229.0,417.4 L229.5,417.6 L230.0,417.7 L230.5,417.8 L231.0,417.9 L231.5,418.0 L232.0,418.1 L232.5,418.2 L233.0,418.3 L233.5,418.4 L234.0,418.5 L234.5,418.6 L235.0,418.7 L235.5,418.8 L236.0,418.9 L236.5,419.0 L237.0,419.1 L237.5,419.2 L238.0,419.3 L238.5,419.4 L239.0,419.5 L239.5,419.5 L240.0,419.6 L240.5,419.7 L241.0,419.8 L241.5,419.9 L242.0,420.0 L242.5,420.1 L243.0,420.1 L243.5,420.2 L244.0,420.3 L244.5,420.4 L245.0,420.5 L245.5,420.6 L246.0,420.6 L246.5,420.7 L247.0,420.8 L247.5,420.9 L248.0,421.0 L248.5,421.0 L249.0,421.1 L249.5,421.2 L250.0,421.3 L250.5,421.3 L251.0,421.4 L251.5,421.5 L252.0,421.6 L252.5,421.6 L253.0,421.7 L253.5,421.8 L254.0,421.9 L254.5,421.9 L255.0,422.0 L255.5,422.1 L256.0,422.2 L256.5,422.2 L257.0,422.3 L257.5,422.4 L258.0,422.5 L258.5,422.5 L259.0,422.6 L259.5,422.7 L260.0,422.7 L260.5,422.8 L261.0,422.9 L261.5,423.0 L262.0,423.0 L262.5,423.1 L263.0,423.2 L263.5,423.2 L264.0,423.3 L264.5,423.4 L265.0,423.4 L265.5,423.5 L266.0,423.6 L266.5,423.6 L267.0,423.7 L267.5,423.8 L268.0,423.8 L268.5,423.9 L269.0,424.0 L269.5,424.0 L270.0,424.1 L270.5,424.2 L271.0,424.2 L271.5,424.3 L272.0,424.3 L272.5,424.4 L273.0,424.5 L273.5,424.5 L274.0,424.6 L274.5,424.6 L275.0,424.7 L275.5,424.8 L276.0,424.8 L276.5,424.9 L277.0,424.9 L277.5,425.0 L278.0,425.0 L278.5,425.1 L279.0,425.1 L279.5,425.2 L280.0,425.3 L280.5,425.3 L281.0,425.4 L281.5,425.4 L282.0,425.5 L282.5,425.5 L283.0,425.5 L283.5,425.6 L284.0,425.6 L284.5,425.7 L285.0,425.7 L285.5,425.8 L286.0,425.8 L286.5,425.9 L287.0,425.9 L287.5,425.9 L288.0,426.0 L288.5,426.0 L289.0,426.1 L289.5,426.1 L290.0,426.1 L290.5,426.2 L291.0,426.2 L291.5,426.2 L292.0,426.3 L292.5,426.3 L293.0,426.3 L293.5,426.4 L294.0,426.4 L294.5,426.4 L295.0,426.5 L295.5,426.5 L296.0,426.5 L296.5,426.5 L297.0,426.5 L297.5,426.6 L298.0,426.6 L298.5,426.6 L299.0,426.6 L299.5,426.6 L300.0,426.6 L300.5,426.6 L301.0,426.6 L301.5,426.6 L302.0,426.6 L302.5,426.6 L303.0,426.6 L303.5,426.6 L304.0,426.6 L304.5,426.6 L305.0,426.6 L305.5,426.5 L306.0,426.5 L306.5,426.5 L307.0,426.5 L307.5,426.4 L308.0,426.4 L308.5,426.3 L309.0,426.3 L309.5,426.3 L310.0,426.2 L310.5,426.1 L311.0,426.1 L311.5,426.0 L312.0,425.9 L312.5,425.9 L313.0,425.8 L313.5,425.7 L314.0,425.6 L314.5,425.5 L315.0,425.4 L315.5,425.3 L316.0,425.2 L316.5,425.1 L317.0,425.0 L317.5,424.9 L318.0,424.7 L318.5,424.6 L319.0,424.5 L319.5,424.3 L320.0,424.2 L320.5,424.0 L321.0,423.9 L321.5,423.7 L322.0,423.5 L322.5,423.3 L323.0,423.2 L323.5,423.0 L324.0,422.8 L324.5,422.6 L325.0,422.4 L325.5,422.2 L326.0,422.0 L326.5,421.8 L327.0,421.6 L327.5,421.4 L328.0,421.2 L328.5,420.9 L329.0,420.7 L329.5,420.3 L330.0,419.9 L330.5,419.3 L331.0,418.5 L331.5,417.7 L332.0,416.5 L332.5,414.9 L333.0,412.8 L333.5,410.2 L334.0,407.5 L334.5,404.7 L335.0,402.0 L335.5,399.0 L336.0,395.9 L336.5,392.7 L337.0,389.3 L337.5,386.0 L338.0,382.7 L338.5,379.4 L339.0,376.0 L339.5,372.7 L340.0,369.4 L340.5,366.2 L341.0,363.2 L341.5,360.6 L342.0,358.3 L342.5,356.4 L343.0,354.9 L343.5,353.9 L344.0,353.6 L344.5,353.8 L345.0,354.4 L345.5,355.4 L346.0,356.7 L346.5,358.2 L347.0,359.7 L347.5,361.0 L348.0,362.1 L348.5,362.8 L349.0,363.3 L349.5,363.8 L350.0,364.1 L350.5,364.5 L351.0,364.8 L351.5,365.1 L352.0,365.4 L352.5,365.8 L353.0,366.0 L353.5,366.3 L354.0,366.6 L354.5,366.9 L355.0,367.1 L355.5,367.4 L356.0,367.6 L356.5,367.9 L357.0,368.1 L357.5,368.3 L358.0,368.5 L358.5,368.7 L359.0,368.8 L359.5,369.0 L360.0,369.2 L360.5,369.3 L361.0,369.5 L361.5,369.6 L362.0,369.7 L362.5,369.8 L363.0,370.0 L363.5,370.1 L364.0,370.2 L364.5,370.3 L365.0,370.4 L365.5,370.4 L366.0,370.5 L366.5,370.6 L367.0,370.6 L367.5,370.7 L368.0,370.7 L368.5,370.8 L369.0,370.8 L369.5,370.8 L370.0,370.8 L370.5,370.8 L371.0,370.8 L371.5,370.8 L372.0,370.8 L372.5,370.8 L373.0,370.7 L373.5,370.7 L374.0,370.7 L374.5,370.6 L375.0,370.5 L375.5,370.5 L376.0,370.4 L376.5,370.3 L377.0,370.2 L377.5,370.1 L378.0,370.0 L378.5,369.9 L379.0,369.8 L379.5,369.7 L380.0,369.5 L380.5,369.4 L381.0,369.2 L381.5,369.1 L382.0,368.9 L382.5,368.8 L383.0,368.6 L383.5,368.4 L384.0,368.2 L384.5,368.0 L385.0,367.8 L385.5,367.6 L386.0,367.4 L386.5,367.1 L387.0,366.9 L387.5,366.7 L388.0,366.4 L388.5,366.1 L389.0,365.9 L389.5,365.6 L390.0,365.3 L390.5,365.1 L391.0,364.8 L391.5,364.5 L392.0,364.2 L392.5,363.9 L393.0,363.6 L393.5,363.3 L394.0,363.0 L394.5,362.7 L395.0,362.4 L395.5,362.1 L396.0,361.8 L396.5,361.5 L397.0,361.1 L397.5,360.8 L398.0,360.4 L398.5,360.0 L399.0,359.6 L399.5,359.1 L400.0,358.5 L400.5,357.9 L401.0,357.3 L401.5,356.6 L402.0,355.8 L402.5,354.9 L403.0,354.1 L403.5,353.2 L404.0,352.4 L404.5,351.5 L405.0,350.6 L405.5,349.6 L406.0,348.7 L406.5,347.7 L407.0,346.8 L407.5,345.8 L408.0,344.9 L408.5,343.9 L409.0,343.0 L409.5,342.0 L410.0,341.1 L410.5,340.2 L411.0,339.3 L411.5,338.4 L412.0,337.5 L412.5,336.7 L413.0,335.9 L413.5,335.1 L414.0,334.2 L414.5,333.4 L415.0,332.5 L415.5,331.6 L416.0,330.7 L416.5,329.7 L417.0,328.6 L417.5,327.5 L418.0,326.3 L418.5,325.0 L419.0,323.6 L419.5,322.1 L420.0,320.6 L420.5,319.1 L421.0,317.6 L421.5,316.2 L422.0,314.7 L422.5,313.1 L423.0,311.6 L423.5,310.1 L424.0,308.7 L424.5,307.3 L425.0,306.0 L425.5,304.9 L426.0,304.0 L426.5,303.2 L427.0,302.7 L427.5,302.4 L428.0,302.2 L428.5,302.2 L429.0,302.3 L429.5,302.4 L430.0,302.6 L430.5,302.8 L431.0,302.9 L431.5,303.0 L432.0,303.0 L432.5,303.0 L433.0,302.9 L433.5,302.9 L434.0,302.9 L434.5,303.0 L435.0,303.2 L435.5,303.4 L436.0,303.8 L436.5,304.1 L437.0,304.6 L437.5,305.0 L438.0,305.6 L438.5,306.3 L439.0,307.2 L439.5,308.5 L440.0,310.2 L440.5,312.8 L441.0,316.4 L441.5,320.7 L442.0,325.4 L442.5,329.8 L443.0,333.9 L443.5,337.7 L444.0,340.9 L444.5,343.6 L445.0,345.8 L445.5,347.5 L446.0,348.8 L446.5,349.9 L447.0,350.8 L447.5,351.4 L448.0,351.9 L448.5,352.2 L449.0,352.3 L449.5,352.2 L450.0,351.9 L450.5,351.5 L451.0,350.7 L451.5,349.7 L452.0,348.5 L452.5,347.0 L453.0,345.4 L453.5,343.8 L454.0,342.2 L454.5,340.8 L455.0,339.5 L455.5,338.3 L456.0,337.2 L456.5,336.2 L457.0,335.2 L457.5,334.2 L458.0,333.2 L458.5,332.2 L459.0,331.2 L459.5,330.3 L460.0,329.3 L460.5,328.4 L461.0,327.5 L461.5,326.6 L462.0,325.7 L462.5,324.8 L463.0,324.0 L463.5,323.1 L464.0,322.3 L464.5,321.5 L465.0,320.8 L465.5,320.2 L466.0,319.7 L466.5,319.2 L467.0,318.9 L467.5,318.6 L468.0,318.5 L468.5,318.4 L469.0,318.4 L469.5,318.3 L470.0,318.3 L470.5,318.1 L471.0,317.9 L471.5,317.7 L472.0,317.4 L472.5,317.1 L473.0,316.8 L473.5,316.5 L474.0,316.1 L474.5,315.8 L475.0,315.4 L475.5,315.1 L476.0,314.8 L476.5,314.5 L477.0,314.3 L477.5,314.2 L478.0,314.3 L478.5,314.5 L479.0,314.7 L479.5,314.9 L480.0,315.0 L480.5,315.0 L481.0,315.0 L481.5,314.9 L482.0,314.8 L482.5,314.7 L483.0,314.5 L483.5,314.3 L484.0,314.2 L484.5,313.9 L485.0,313.6 L485.5,313.2 L486.0,312.7 L486.5,312.0 L487.0,311.1 L487.5,310.1 L488.0,309.1"/>
<g class="tick"><text x="56.8" y="495.2" text-anchor="end" textLength="16" lengthAdjust="spacingAndGlyphs">0.0</text><text x="56.8" y="471.6" text-anchor="end" textLength="16" lengthAdjust="spacingAndGlyphs">5.0</text><text x="56.8" y="448.0" text-anchor="end" textLength="21" lengthAdjust="spacingAndGlyphs">10.0</text><text x="56.8" y="424.4" text-anchor="end" textLength="21" lengthAdjust="spacingAndGlyphs">15.0</text><text x="56.8" y="400.8" text-anchor="end" textLength="21" lengthAdjust="spacingAndGlyphs">20.0</text><text x="56.8" y="377.2" text-anchor="end" textLength="21" lengthAdjust="spacingAndGlyphs">25.0</text><text x="56.8" y="353.6" text-anchor="end" textLength="21" lengthAdjust="spacingAndGlyphs">30.0</text><text x="56.8" y="330.0" text-anchor="end" textLength="21" lengthAdjust="spacingAndGlyphs">35.0</text><text x="56.8" y="306.4" text-anchor="end" textLength="21" lengthAdjust="spacingAndGlyphs">40.0</text><text x="56.8" y="282.8" text-anchor="end" textLength="21" lengthAdjust="spacingAndGlyphs">45.0</text><text x="68.1" y="511.2" text-anchor="middle" textLength="16" lengthAdjust="spacingAndGlyphs">0.0</text><text x="152.1" y="511.2" text-anchor="middle" textLength="16" lengthAdjust="spacingAndGlyphs">5.0</text><text x="236.2" y="511.2" text-anchor="middle" textLength="21" lengthAdjust="spacingAndGlyphs">10.0</text><text x="320.2" y="511.2" text-anchor="middle" textLength="21" lengthAdjust="spacingAndGlyphs">15.0</text><text x="404.3" y="511.2" text-anchor="middle" textLength="21" lengthAdjust="spacingAndGlyphs">20.0</text><text x="488.3" y="511.2" text-anchor="middle" textLength="21" lengthAdjust="spacingAndGlyphs">25.0</text></g>
<text class="title" transform="translate(28.3,505.5) rotate(-90)" textLength="220.5" lengthAdjust="spacingAndGlyphs">Adhesive Max Shear Stress (MPa)</text>
<text class="title" x="199.8" y="532.8" textLength="155.5" lengthAdjust="spacingAndGlyphs">Bondline Position (mm)</text>
<g class="leg">
<rect x="369.6" y="433.6" width="114.5" height="50.9" fill="#FFFFCC" stroke="#000" stroke-width="1.3"/>
<line x1="376.7" y1="441.8" x2="396.4" y2="441.8" stroke="#1414FF" stroke-width="1.8"/>
<line x1="376.7" y1="459.1" x2="396.4" y2="459.1" stroke="#00B050" stroke-width="1.8"/>
<line x1="376.7" y1="476.4" x2="396.4" y2="476.4" stroke="#FF6D14" stroke-width="1.8"/>
<text x="398.7" y="445.2" textLength="35" lengthAdjust="spacingAndGlyphs">Pristine</text>
<text x="398.7" y="462.5" textLength="64" lengthAdjust="spacingAndGlyphs">Sensor Center</text>
<text x="398.7" y="479.8" textLength="77.3" lengthAdjust="spacingAndGlyphs">Sensor Load Side</text>
</g>
</svg>
</body></html>
